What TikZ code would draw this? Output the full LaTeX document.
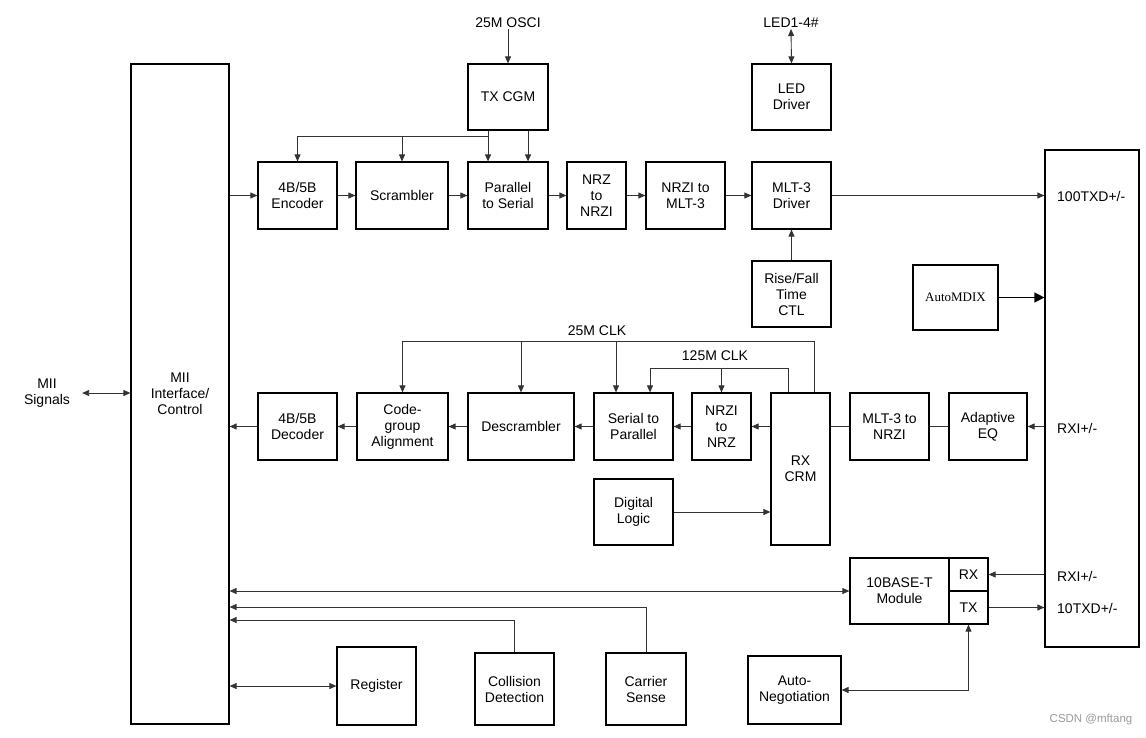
\documentclass[tikz,border=0pt]{standalone}
\usepackage{fontspec}
\setmainfont{Liberation Sans}
\newfontfamily\timesfont{Liberation Serif}
\usetikzlibrary{arrows.meta}

\tikzset{
    blk/.style={draw, line width=1.2pt, inner sep=0pt, align=center,
        minimum width=79pt, minimum height=67pt},
    wire/.style={line width=0.9pt, draw=black!80},
    arr/.style={wire, -{Triangle[length=7pt,width=6pt]}},
    dbl/.style={wire, {Triangle[length=7pt,width=6pt]}-{Triangle[length=7pt,width=6pt]}},
    lbl/.style={inner sep=1pt, align=center}
}

\begin{document}
\begin{tikzpicture}[x=1pt, y=-1pt, font=\fontsize{14}{16}\selectfont]
    \useasboundingbox (0,0) rectangle (1146,737);

    % MII side
    \node[blk, minimum width=98pt, minimum height=660pt] (mii) at (180,394) {MII\\Interface/\\Control};
    \node[lbl] (sig) at (47,393) {MII\\Signals};
    \draw[dbl] ([xshift=11pt]sig.east) -- (mii.west |- sig);

    % line side
    \node[blk, minimum width=94pt, minimum height=497pt] (line) at (1092,398.5) {};
    \node[lbl, anchor=west] (txd) at (1056,196) {100TXD+/-};
    \node[lbl, anchor=west] (rxi) at (1056,428) {RXI+/-};
    \node[lbl, anchor=west] (rxi10) at (1056,576) {RXI+/-};
    \node[lbl, anchor=west] (txd10) at (1056,608) {10TXD+/-};

    % transmit path
    \node[blk] (enc) at (297.5,195.5) {4B/5B\\Encoder};
    \node[blk, minimum width=92pt] (scr) at (402,195.5) {Scrambler};
    \node[blk, minimum width=80pt] (pts) at (508,195.5) {Parallel\\to Serial};
    \node[blk, minimum width=59pt] (nrz) at (596.5,195.5) {NRZ\\to\\NRZI};
    \node[blk] (mlt) at (685.5,195.5) {NRZI to\\MLT-3};
    \node[blk] (drv) at (791.5,195.5) {MLT-3\\Driver};
    \draw[arr] (mii.east |- enc) -- (enc.west);
    \draw[arr] (enc) -- (scr);
    \draw[arr] (scr) -- (pts);
    \draw[arr] (pts) -- (nrz);
    \draw[arr] (nrz) -- (mlt);
    \draw[arr] (mlt) -- (drv);
    \draw[arr] (drv.east) -- (line.west |- drv);

    % tx clock
    \node[blk, minimum width=80pt, minimum height=66pt] (cgm) at (508,97) {TX CGM};
    \node[lbl] (osci) at (508,23) {25M OSCI};
    \draw[arr] (osci.south) -- (cgm.north);
    \coordinate (tclk) at (488,136);
    \draw[arr] ([xshift=-20pt]cgm.south) -- ([xshift=-20pt]pts.north);
    \draw[arr] ([xshift=20pt]cgm.south) -- ([xshift=20pt]pts.north);
    \draw[arr] (tclk) -| (enc.north);
    \draw[arr] (tclk -| scr.north) -- (scr.north);

    % LED, rise/fall, AutoMDIX
    \node[blk, minimum height=66pt] (led) at (791.5,97) {LED\\Driver};
    \node[lbl] (ledpin) at (791,23) {LED1-4\#};
    \draw[dbl] (ledpin.south) -- (led.north);
    \node[blk, minimum height=66pt] (rf) at (791.5,294) {Rise/Fall\\Time\\CTL};
    \draw[arr] (rf.north) -- (drv.south);
    \node[blk, minimum width=85pt, minimum height=65pt, font=\timesfont\fontsize{13}{15}\selectfont] (mdix) at (955.5,297.5) {AutoMDIX};
    \draw[line width=1.2pt, -{Triangle[length=10pt,width=10pt]}] (mdix.east) -- (line.west |- mdix);

    % receive path
    \node[blk] (dec) at (297.5,426.5) {4B/5B\\Decoder};
    \node[blk, minimum width=91pt] (cga) at (402.5,426.5) {Code-\\group\\Alignment};
    \node[blk, minimum width=106pt] (dsc) at (521,426.5) {Descrambler};
    \node[blk] (stp) at (633.5,426.5) {Serial to\\Parallel};
    \node[blk, minimum width=59pt] (nrzi) at (721.5,426.5) {NRZI\\to\\NRZ};
    \node[blk, minimum width=59pt, minimum height=152pt] (crm) at (800.5,469) {RX\\CRM};
    \node[blk] (mtn) at (889.5,426.5) {MLT-3 to\\NRZI};
    \node[blk, minimum width=78pt] (aeq) at (988,426.5) {Adaptive\\EQ};
    \draw[arr] (line.west |- aeq) -- (aeq.east);
    \draw[wire] (aeq) -- (mtn);
    \draw[wire] (mtn.west) -- (crm.east |- mtn);
    \draw[arr] (crm.west |- nrzi) -- (nrzi.east);
    \draw[arr] (nrzi) -- (stp);
    \draw[arr] (stp) -- (dsc);
    \draw[arr] (dsc) -- (cga);
    \draw[arr] (cga) -- (dec);
    \draw[arr] (dec.west) -- (mii.east |- dec);

    % rx clocks
    \coordinate (clk25) at (814,341);
    \coordinate (clk25s) at (616,341);
    \node[lbl] (clk25txt) at (597,331) {25M CLK};
    \draw[arr] (crm.north -| clk25) -- (clk25) -| (cga.north);
    \draw[arr] (clk25 -| dsc.north) -- (dsc.north);
    \draw[arr] (clk25s) -- (clk25s |- stp.north);
    \coordinate (clk125) at (788,368);
    \coordinate (clk125s) at (650,368);
    \node[lbl] (clk125txt) at (715,356) {125M CLK};
    \draw[arr] (crm.north -| clk125) -- (clk125) -- (clk125s) -- (clk125s |- stp.north);
    \draw[arr] (clk125 -| nrzi.north) -- (nrzi.north);

    % digital logic
    \node[blk, minimum height=66pt] (dig) at (633.5,512) {Digital\\Logic};
    \draw[arr] (dig.east) -- (crm.west |- dig);

    % 10BASE-T
    \node[blk, minimum width=99pt, minimum height=66pt] (tbt) at (899.5,591) {10BASE-T\\Module};
    \node[blk, minimum width=39pt, minimum height=33pt] (rx) at (968.5,574.5) {RX};
    \node[blk, minimum width=39pt, minimum height=33pt] (tx) at (968.5,607.5) {TX};
    \draw[arr] (line.west |- rx) -- (rx.east);
    \draw[arr] (tx.east) -- (line.west |- tx);
    \draw[dbl] (mii.east |- tbt) -- (tbt.west);

    % bottom blocks
    \node[blk, minimum width=93pt, minimum height=68pt] (aneg) at (794.5,690) {Auto-\\Negotiation};
    \draw[dbl] (tx.south) |- (aneg.east);
    \node[blk, minimum width=80pt, minimum height=72pt] (cs) at (646,689) {Carrier\\Sense};
    \node[blk, minimum height=72pt] (cd) at (514.5,689) {Collision\\Detection};
    \node[blk, minimum height=78pt] (reg) at (376.5,686) {Register};
    \draw[arr] (cs.north) |- (mii.east |- 0,607);
    \draw[arr] (cd.north) |- (mii.east |- 0,620);
    \draw[dbl] (mii.east |- reg) -- (reg.west);

    % watermark
    \node[text=black!40, font=\fontsize{11.5}{13}\selectfont] (mark) at (1091,720) {CSDN @mftang};

\end{tikzpicture}
\end{document}
